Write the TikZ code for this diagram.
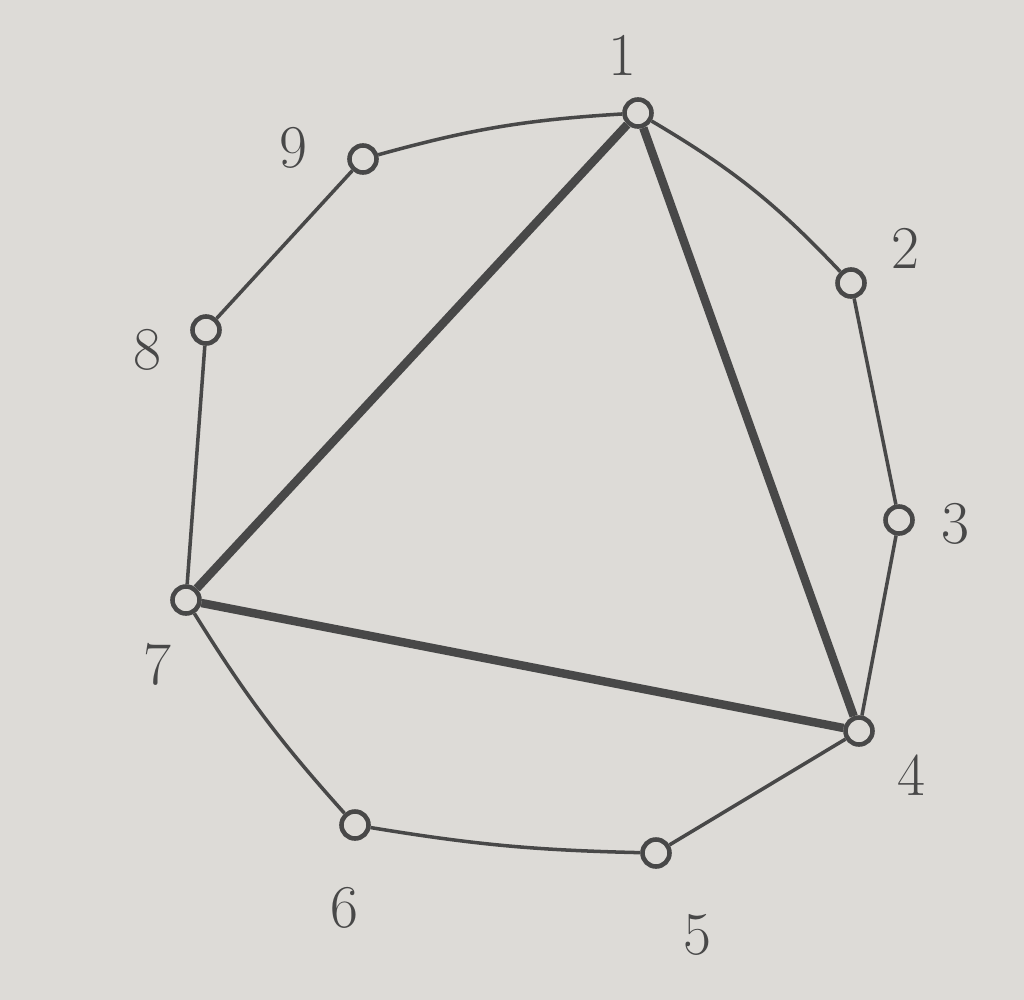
\documentclass[tikz,border=0pt]{standalone}
\usetikzlibrary{positioning}
\definecolor{paper}{RGB}{221,219,215}
\definecolor{pencil}{RGB}{72,72,72}

\begin{document}
\begin{tikzpicture}[x=0.01cm,y=-0.01cm,
    vertex/.style={circle,draw=pencil,fill=paper,line width=1.3pt,minimum size=0.27cm,inner sep=0pt},
    num/.style={text=pencil,font=\LARGE},
    ring/.style={draw=pencil,line width=1pt},
    chord/.style={draw=pencil,line width=2.4pt}]

        \fill[paper] (0,0) rectangle (1024,1000);
        \useasboundingbox (0,0) rectangle (1024,1000);

        \node[vertex] (V1) at (638,113) {};
        \node[vertex] (V2) at (851,283) {};
        \node[vertex] (V3) at (899,520) {};
        \node[vertex] (V4) at (859,731) {};
        \node[vertex] (V5) at (656,853) {};
        \node[vertex] (V6) at (355,825) {};
        \node[vertex] (V7) at (186,600) {};
        \node[vertex] (V8) at (206,330) {};
        \node[vertex] (V9) at (363,159) {};

        \node[num] (L1) at (622,55)  {1};
        \node[num] (L2) at (905,248) {2};
        \node[num] (L3) at (955,524) {3};
        \node[num] (L4) at (911,775) {4};
        \node[num] (L5) at (697,935) {5};
        \node[num] (L6) at (344,908) {6};
        \node[num] (L7) at (157,664) {7};
        \node[num] (L8) at (147,350) {8};
        \node[num] (L9) at (293,148) {9};

        \path[ring]
                  (V1) edge [bend left=8] (V2)
                  (V2) edge (V3)
                  (V3) edge (V4)
                  (V4) edge (V5)
                  (V5) edge [bend left=4] (V6)
                  (V6) edge [bend left=5] (V7)
                  (V7) edge (V8)
                  (V8) edge (V9)
                  (V9) edge [bend left=6] (V1);

        \path[chord]
                  (V1) edge (V7)
                       edge (V4)
                  (V7) edge (V4);
\end{tikzpicture}
\end{document}
